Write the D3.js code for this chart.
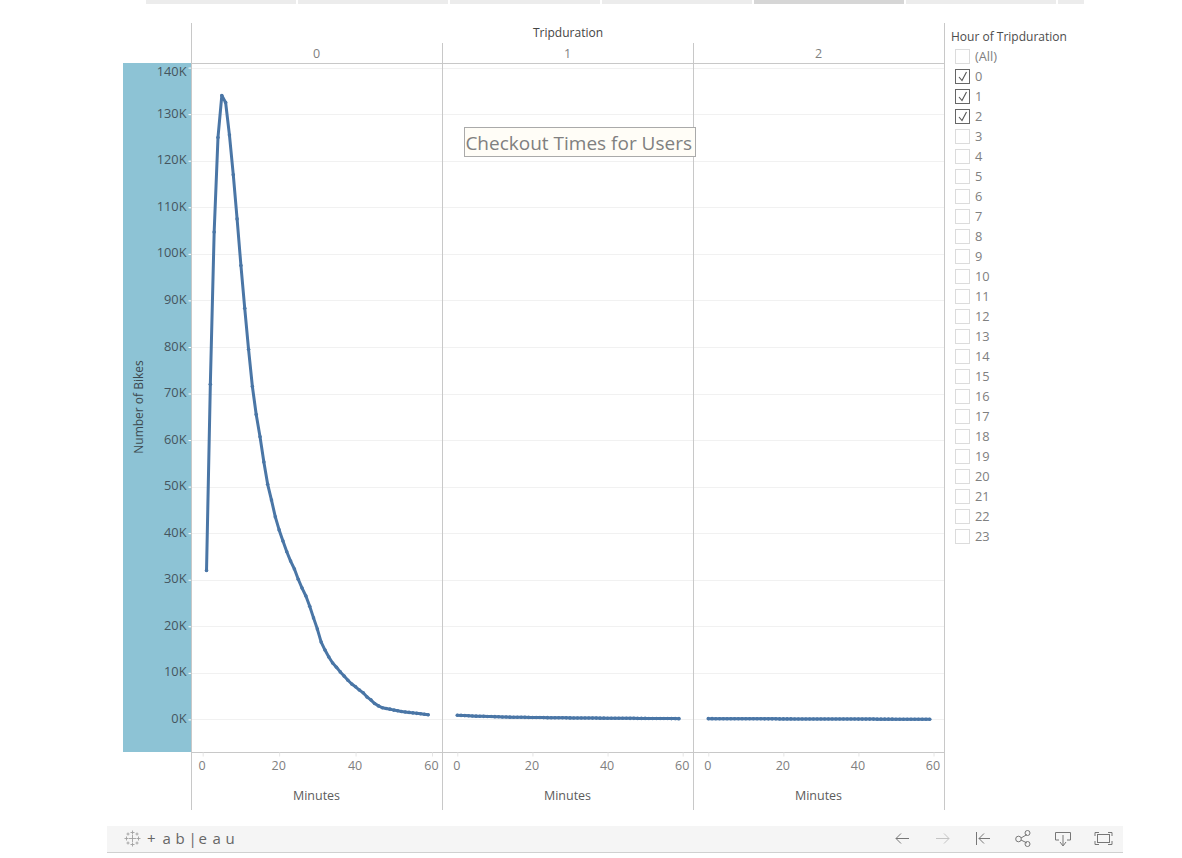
<!DOCTYPE html>
<html>
<head>
<meta charset="utf-8">
<title>Checkout Times for Users</title>
<script src="https://d3js.org/d3.v7.min.js"></script>
<style>
  html, body { margin: 0; padding: 0; background: #fff; }
  svg { display: block; }
  text { font-family: "Open Sans", "Noto Sans", sans-serif; }
</style>
</head>
<body>
<svg id="chart" width="1182" height="858"></svg>
<script>
// Number of bikes per minute, one list per hour of trip duration
const hour0Minutes = d3.range(1, 60);
const hour0Bikes = [
  32000, 72000, 104700, 125000, 134000, 132500, 125500, 117000, 107500, 97500,
  88300, 79500, 71500, 65500, 60700, 55300, 50500, 47100, 43500, 40700,
  38300, 36000, 34000, 32300, 30100, 28200, 26500, 24300, 21800, 19400,
  16600, 14900, 13400, 12100, 11200, 10200, 9300, 8400, 7600, 7000,
  6300, 5700, 4800, 4200, 3400, 2900, 2500, 2350, 2200, 2000,
  1850, 1700, 1600, 1500, 1400, 1300, 1200, 1100, 1000
];
const hour1Minutes = d3.range(0, 60);
const hour1Bikes = [
  900, 860, 820, 780, 740, 700, 670, 650, 630, 610,
  590, 560, 530, 500, 480, 470, 460, 450, 440, 430,
  420, 410, 400, 390, 380, 370, 360, 350, 340, 330,
  320, 310, 300, 295, 290, 285, 280, 275, 270, 265,
  260, 255, 250, 245, 240, 235, 230, 225, 220, 215,
  210, 205, 200, 195, 190, 185, 180, 175, 170, 165
];
const hour2Minutes = d3.range(0, 60);
const hour2Bikes = [
  160, 158, 155, 152, 150, 148, 145, 142, 140, 138,
  135, 132, 130, 128, 125, 122, 120, 118, 115, 112,
  110, 108, 105, 102, 100, 98, 96, 94, 92, 90,
  88, 86, 84, 82, 80, 78, 76, 74, 72, 70,
  68, 66, 64, 62, 60, 58, 56, 54, 52, 50,
  48, 46, 45, 44, 42, 40, 38, 36, 34, 32
];

const hourLabels = ['0', '1', '2'];
const bikeTicks = d3.range(0, 140001, 10000);
const minuteTicks = [0, 20, 40, 60];
const filterItems = ['(All)'].concat(d3.range(0, 24).map(String));
const checkedItems = ['0', '1', '2'];
const tabWidths = [150, 150, 150, 150, 150, 150, 26];

const panels = [
  { hour: hourLabels[0], minutes: hour0Minutes, bikes: hour0Bikes, left: 191.5, right: 442.5, x0: 202.7, x60: 432 },
  { hour: hourLabels[1], minutes: hour1Minutes, bikes: hour1Bikes, left: 442.5, right: 693.5, x0: 457.3, x60: 682.7 },
  { hour: hourLabels[2], minutes: hour2Minutes, bikes: hour2Bikes, left: 693.5, right: 944.5, x0: 708.3, x60: 933.5 }
];

const svg = d3.select('#chart');
const lineColor = '#c8c8c8';
const markColor = '#4a76a6';
const y = d3.scaleLinear().domain([0, 140000]).range([719.4, 67.6]);

// Dashboard tabs along the top edge
let tabX = 146;
tabWidths.forEach((w, i) => {
  svg.append('rect').attr('x', tabX).attr('y', 0).attr('width', w).attr('height', 4)
    .attr('fill', i === 4 ? '#d6d6d6' : '#ececec');
  tabX += w + 2;
});

// Y axis band
svg.append('rect').attr('x', 123).attr('y', 63).attr('width', 68).attr('height', 689).attr('fill', '#8dc3d5');

// Gridlines
svg.append('g').selectAll('line').data(bikeTicks).enter().append('line')
  .attr('x1', 192).attr('x2', 944)
  .attr('y1', d => Math.round(y(d)) + 0.5).attr('y2', d => Math.round(y(d)) + 0.5)
  .attr('stroke', '#f1f1f1');

// Y axis
const yAxis = svg.append('g').attr('transform', 'translate(191.5,0)')
  .call(d3.axisLeft(y).tickValues(bikeTicks).tickSize(3).tickPadding(2).tickFormat(d => d / 1000 + 'K'));
yAxis.select('.domain').remove();
yAxis.selectAll('line').attr('stroke', '#fff');
yAxis.selectAll('text')
  .attr('font-size', 12.8).attr('fill', '#45555e')
  .attr('dy', d => d === 140000 ? '0.62em' : '0.24em');

svg.append('text').attr('transform', 'translate(143,407) rotate(-90)')
  .attr('text-anchor', 'middle').attr('font-size', 12).attr('fill', '#3d4a50').text('Number of Bikes');

// Frame lines
const frame = svg.append('g').attr('stroke', lineColor).attr('fill', 'none');
[[191.5, 23], [442.5, 43], [693.5, 43], [944.5, 23]].forEach(([px, top]) => {
  frame.append('line').attr('x1', px).attr('x2', px).attr('y1', top).attr('y2', 810);
});
frame.append('line').attr('x1', 191).attr('x2', 945).attr('y1', 63.5).attr('y2', 63.5);
frame.append('line').attr('x1', 191).attr('x2', 945).attr('y1', 752.5).attr('y2', 752.5);

svg.append('text').attr('x', 568).attr('y', 37).attr('text-anchor', 'middle')
  .attr('font-size', 12).attr('fill', '#444').text('Tripduration');

// One small multiple per hour
panels.forEach(p => {
  const x = d3.scaleLinear().domain([0, 60]).range([p.x0, p.x60]);
  const rows = p.minutes.map((m, i) => ({ minute: m, bikes: p.bikes[i] }));
  const line = d3.line().x(d => x(d.minute)).y(d => y(d.bikes));

  svg.append('text').attr('x', (p.left + p.right) / 2 - 0.5).attr('y', 58).attr('text-anchor', 'middle')
    .attr('font-size', 12.5).attr('fill', '#808080').text(p.hour);

  svg.append('path').datum(rows).attr('d', line)
    .attr('fill', 'none').attr('stroke', markColor).attr('stroke-width', 3)
    .attr('stroke-linejoin', 'round').attr('stroke-linecap', 'round');
  svg.append('g').selectAll('circle').data(rows).enter().append('circle')
    .attr('cx', d => x(d.minute)).attr('cy', d => y(d.bikes)).attr('r', 1.8)
    .attr('fill', markColor);

  const xAxis = svg.append('g').attr('transform', 'translate(0,752.5)')
    .call(d3.axisBottom(x).tickValues(minuteTicks).tickSize(4).tickPadding(5));
  xAxis.select('.domain').remove();
  xAxis.selectAll('line').attr('stroke', '#e6e6e6');
  xAxis.selectAll('text').attr('font-size', 12.5).attr('fill', '#808080').attr('dx', '-1');

  svg.append('text').attr('x', (p.left + p.right) / 2 - 0.5).attr('y', 800).attr('text-anchor', 'middle')
    .attr('font-size', 12.5).attr('fill', '#5c5c5c').text('Minutes');
});

// Annotation box
svg.append('rect').attr('x', 464.5).attr('y', 127.5).attr('width', 231).attr('height', 29)
  .attr('fill', '#fffdf7').attr('stroke', '#aaa');
svg.append('text').attr('x', 578.7).attr('y', 149.5).attr('text-anchor', 'middle')
  .attr('font-size', 19).attr('fill', '#808080').text('Checkout Times for Users');

// Filter list on the right
svg.append('text').attr('x', 951).attr('y', 41).attr('font-size', 12).attr('fill', '#4c4c4c').text('Hour of Tripduration');
const itemY = d3.scalePoint().domain(filterItems).range([56.5, 536.5]);
const items = svg.append('g').selectAll('g').data(filterItems).enter().append('g')
  .attr('transform', d => `translate(0,${itemY(d)})`);
items.append('rect').attr('x', 955.5).attr('y', -7).attr('width', 14).attr('height', 14)
  .attr('fill', '#fff').attr('stroke', d => checkedItems.includes(d) ? '#666' : '#dcdcdc');
items.filter(d => checkedItems.includes(d)).append('path')
  .attr('d', 'M959,0.5 L962,4 L966.5,-4.5').attr('fill', 'none').attr('stroke', '#555').attr('stroke-width', 1.1);
items.append('text').attr('x', 975).attr('y', 4.5).attr('font-size', 12.8).attr('fill', '#808080').text(d => d);

// Tableau footer bar
svg.append('rect').attr('x', 107).attr('y', 826).attr('width', 1016).attr('height', 26).attr('fill', '#f5f5f5');
svg.append('line').attr('x1', 107).attr('x2', 1123).attr('y1', 852.5).attr('y2', 852.5).attr('stroke', '#d0d0d0');

const logo = svg.append('g').attr('stroke', '#a0a0a0').attr('fill', 'none').attr('stroke-width', 0.9);
[[132.5, 838.5, 3.5], [126.5, 838.5, 2], [138.5, 838.5, 2], [132.5, 832.5, 2], [132.5, 844.5, 2],
 [128, 834, 1.5], [137, 834, 1.5], [128, 843, 1.5], [137, 843, 1.5]].forEach(([cx, cy, r]) => {
  logo.append('path').attr('d', `M${cx - r},${cy} H${cx + r} M${cx},${cy - r} V${cy + r}`);
});
svg.append('text').attr('x', '147 162.5 175.5 188.5 198.5 212.5 225.5').attr('y', 844)
  .attr('font-size', 15).attr('fill', '#666').text('+ab|eau');

const icons = svg.append('g').attr('fill', 'none').attr('stroke', '#777').attr('stroke-width', 1);
icons.append('path').attr('d', 'M909,838.5 H896 M901,833.5 L896,838.5 L901,843.5');
icons.append('path').attr('stroke', '#c4c4c4').attr('d', 'M936,838.5 H949 M944,833.5 L949,838.5 L944,843.5');
icons.append('path').attr('d', 'M976.5,832 V845 M990,838.5 H979 M984,833.5 L979,838.5 L984,843.5');
icons.append('path').attr('d', 'M1021,838 L1027,834.5 M1021,840 L1027,843');
[[1018.5, 839, 2.8], [1027.5, 833, 2.5], [1027.5, 844, 2.5]].forEach(([cx, cy, r]) => {
  icons.append('circle').attr('cx', cx).attr('cy', cy).attr('r', r);
});
icons.append('path').attr('d', 'M1059,840 H1055.5 V832.5 H1070.5 V840 H1067 M1063,835 V845 M1060,842 L1063,846 L1066,842');
icons.append('path').attr('d', 'M1095,836 V832.5 H1099 M1108,832.5 H1112 V836 M1112,841 V844.5 H1108 M1099,844.5 H1095 V841');
icons.append('rect').attr('x', 1097.5).attr('y', 834.5).attr('width', 12).attr('height', 8);
</script>
</body>
</html>
